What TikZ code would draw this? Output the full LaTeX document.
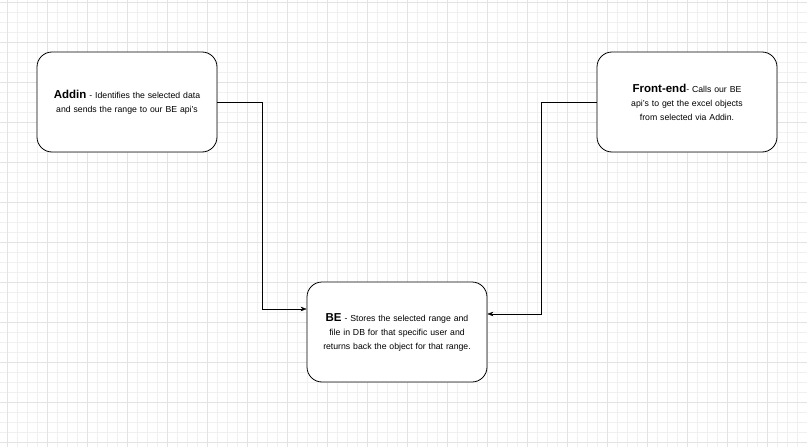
\documentclass[tikz,border=0pt]{standalone}
\usepackage{fontspec}
\setmainfont{Liberation Sans}
\usetikzlibrary{arrows.meta}
\begin{document}
\begin{tikzpicture}[x=1pt,y=-1pt]

\useasboundingbox (0,0) rectangle (807,447);
\foreach \i in {0,10,...,800} \draw[black!6,line width=0.6pt] (\i+7,0) -- (\i+7,447);
\foreach \j in {0,10,...,440} \draw[black!6,line width=0.6pt] (0,\j+2) -- (807,\j+2);
\foreach \i in {0,40,...,800} \draw[black!11,line width=0.8pt] (\i+7,0) -- (\i+7,447);
\foreach \j in {0,40,...,440} \draw[black!11,line width=0.8pt] (0,\j+2) -- (807,\j+2);

\begin{scope}[
    every node/.style={
        draw,
        thick,
        rounded corners=15,
        fill=white,
        minimum width=180,
        minimum height=100,
        text width=162,
        align=center,
        execute at begin node={\hyphenpenalty=10000},
        font=\fontsize{8.7}{14}\selectfont}]

    \node (addin) at (127,102) {{\fontsize{11.5}{14}\selectfont\textbf{Addin}} - Identifies the selected data and sends the range to our BE api's};
    \node (frontend) at (687,102) {{\fontsize{11.5}{14}\selectfont\textbf{Front-end}}- Calls our BE api's to get the excel objects from selected via Addin.};
    \node (be) at (397,332) {{\fontsize{11.5}{14}\selectfont\textbf{BE}} - Stores the selected range and file in DB for that specific user and returns back the object for that range.};
\end{scope}

\begin{scope}[>={Stealth[black,length=6pt]}]
    \draw [->] (addin.east) -- ++(45,0) |- ([yshift=23]be.west);
    \draw [->] (frontend.west) -- ++(-55,0) |- ([yshift=18]be.east);
\end{scope}
\end{tikzpicture}
\end{document}
